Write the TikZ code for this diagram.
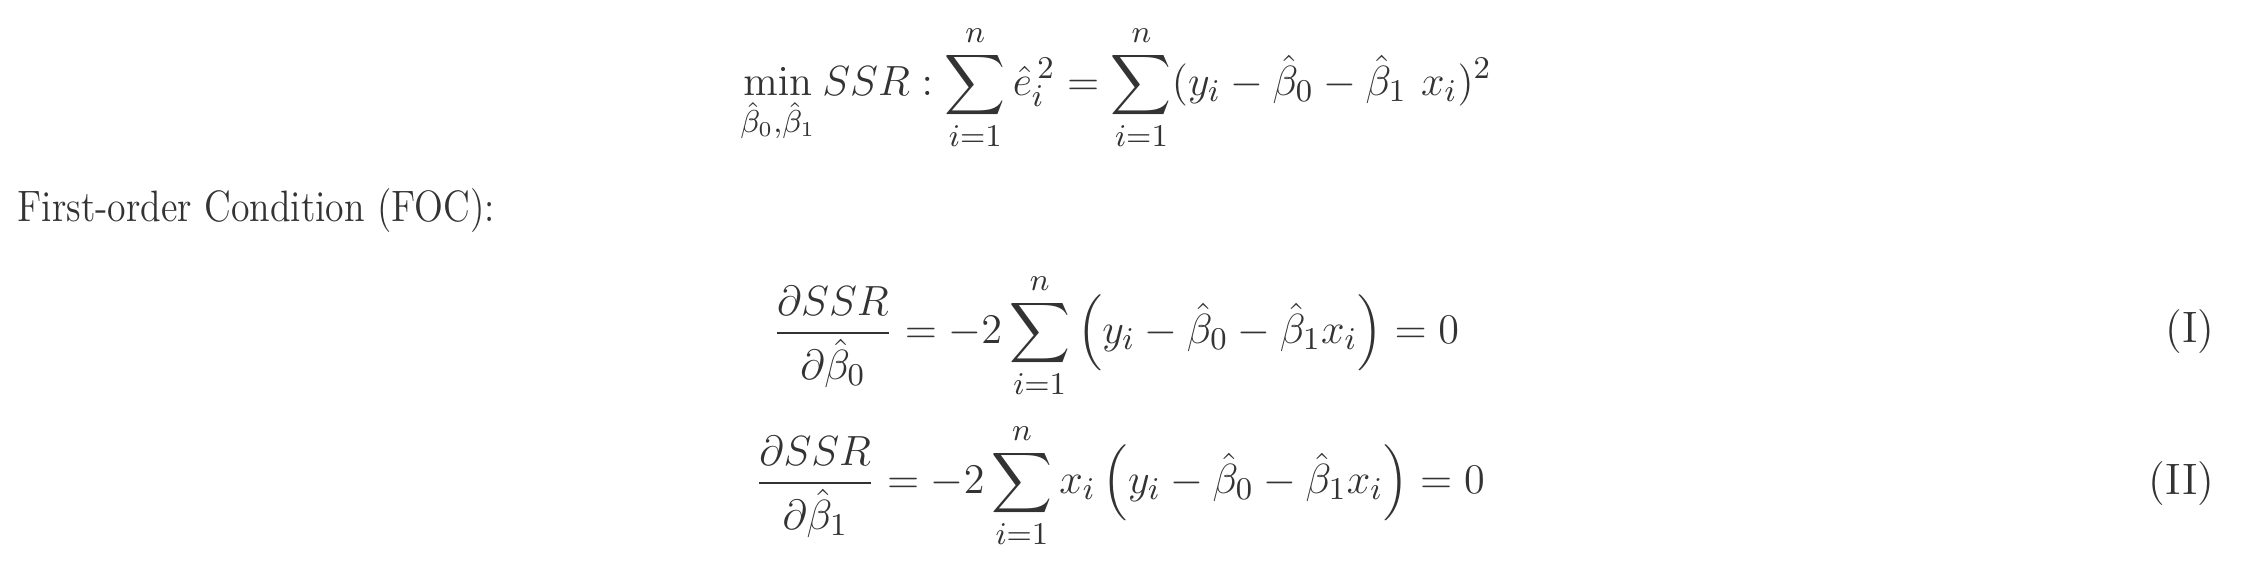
\documentclass[tikz,border=0pt]{standalone}
\usepackage{amsmath}
\begin{document}
\begin{tikzpicture}[x=0.01cm,y=-0.01cm,
  txt/.style={text=black!80,font=\fontsize{12.5}{15}\selectfont,inner sep=0pt}]
\useasboundingbox[fill=white] (0,0) rectangle (2256,572);
\node[txt] (eq1) at (1116,88) {$\displaystyle \min_{\hat\beta_0,\hat\beta_1} SSR : \sum_{i=1}^{n} {\hat e_i}^{\,2} = \sum_{i=1}^{n} (y_i-\hat\beta_0-\hat\beta_1\ x_i)^2$};
\node[txt,anchor=west,xscale=0.86] (foc) at (17,211) {First-order Condition (FOC):};
\node[txt] (eqI) at (1116,336) {$\displaystyle \frac{\partial SSR}{\partial\hat\beta_0} = -2\sum_{i=1}^{n}\left(y_i-\hat\beta_0-\hat\beta_1 x_i\right)=0$};
\node[txt,anchor=east] (lI) at (2215,332) {(I)};
\node[txt] (eqII) at (1120,486) {$\displaystyle \frac{\partial SSR}{\partial\hat\beta_1} = -2\sum_{i=1}^{n}x_i\left(y_i-\hat\beta_0-\hat\beta_1 x_i\right)=0$};
\node[txt,anchor=east] (lII) at (2215,484) {(II)};
\end{tikzpicture}
\end{document}
